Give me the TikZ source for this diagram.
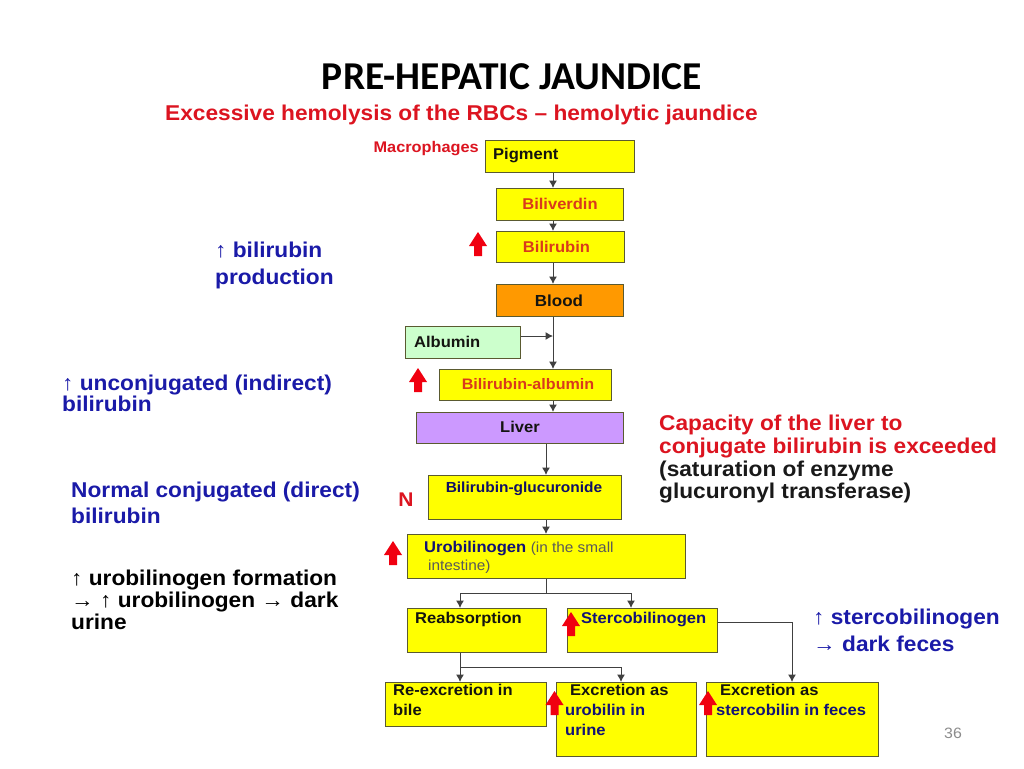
\documentclass[tikz,border=0pt]{standalone}
\usepackage{fontspec}
\setmainfont[FakeStretch=1.06]{Liberation Sans}
\newfontfamily\titlefont{Carlito}
\usetikzlibrary{arrows.meta}
\definecolor{boxyellow}{HTML}{FFFF00}
\definecolor{boxorange}{HTML}{FF9900}
\definecolor{boxgreen}{HTML}{CCFFCC}
\definecolor{boxpurple}{HTML}{CC99FF}
\definecolor{edgecol}{HTML}{5A5A30}
\definecolor{linecol}{HTML}{404040}
\definecolor{slideblue}{HTML}{1A1AA8}
\definecolor{slidered}{HTML}{DC1420}
\definecolor{boxred}{HTML}{D93A1C}
\definecolor{inkdark}{HTML}{141410}
\definecolor{arrowred}{HTML}{F00010}
\tikzset{
  x=1pt,y=-1pt,
  flowbox/.style={draw=edgecol,line width=1.2pt,inner sep=0pt,anchor=north west},
  conn/.style={draw=linecol,line width=1pt},
  arr/.style={conn,-{Latex[length=7.5pt,width=8pt]}},
  boxtext/.style={font=\bfseries\fontsize{15.6}{20}\selectfont,inner sep=0pt,text=inkdark,align=left},
  sidetext/.style={font=\bfseries\fontsize{21.4}{27}\selectfont,inner sep=0pt,anchor=north west,align=left},
  uparrow/.style={fill=arrowred,draw=none},
}
\newcommand{\flowbox}[6]{\node[flowbox,fill=#6,minimum width=#4-#2,minimum height=#5-#3] (#1) at (#2,#3) {};}
\newcommand{\redup}[2]{\fill[uparrow] (#1,#2) -- (#1+9,#2+14) -- (#1+4,#2+14) -- (#1+4,#2+24) -- (#1-4,#2+24) -- (#1-4,#2+14) -- (#1-9,#2+14) -- cycle;}
\begin{document}
\begin{tikzpicture}
\useasboundingbox (0,0) rectangle (1024,768);
\fill[white] (0,0) rectangle (1024,768);
% titles
\node[font=\titlefont\bfseries\fontsize{39.5}{44}\selectfont,inner sep=0pt,text=black] (title) at (512,77) {PRE-HEPATIC JAUNDICE};
\node[font=\bfseries\fontsize{21.4}{26}\selectfont,inner sep=0pt,text=slidered] (subtitle) at (461.5,115) {Excessive hemolysis of the RBCs -- hemolytic jaundice};
% boxes
\flowbox{pigment}{485}{140}{634}{172}{boxyellow}
\flowbox{biliverdin}{496}{188}{623}{220}{boxyellow}
\flowbox{bilirubin}{496}{231}{624}{262}{boxyellow}
\flowbox{blood}{496}{284}{623}{316}{boxorange}
\flowbox{albumin}{405}{326}{520}{358}{boxgreen}
\flowbox{bilalb}{439}{369}{611}{400}{boxyellow}
\flowbox{liver}{416}{412}{623}{443}{boxpurple}
\flowbox{biluc}{428}{475}{621}{519}{boxyellow}
\flowbox{uro}{406.5}{534}{685}{578}{boxyellow}
\flowbox{reabs}{406.5}{608}{546}{652}{boxyellow}
\flowbox{sterco}{567}{608}{717}{652}{boxyellow}
\flowbox{reex}{385}{682}{546}{726}{boxyellow}
\flowbox{exuro}{556}{682}{696}{756}{boxyellow}
\flowbox{exster}{706}{682}{878}{756}{boxyellow}
% box texts
\node[boxtext,anchor=west] (tpigment) at (493,155.5) {Pigment};
\node[boxtext,text=boxred] (tbiliverdin) at (560,203.5) {Biliverdin};
\node[boxtext,text=boxred] (tbilirubin) at (556.5,246.5) {Bilirubin};
\node[boxtext,font=\bfseries\fontsize{16}{20}\selectfont] (tblood) at (559,300.5) {Blood};
\node[boxtext,anchor=west] (talbumin) at (414,341.5) {Albumin};
\node[boxtext,font=\bfseries\fontsize{15.2}{20}\selectfont,text=boxred] (tbilalb) at (528,384.5) {Bilirubin-albumin};
\node[boxtext] (tliver) at (520,426.5) {Liver};
\node[boxtext,font=\bfseries\fontsize{14.6}{18}\selectfont,text=slideblue!60!black] (tbiluc) at (524,489) {Bilirubin-glucuronide};
\node[boxtext,anchor=west,text=slideblue!70!black] (turo) at (424,548) {Urobilinogen \mdseries\fontsize{14.5}{18}\selectfont\color{black!65}(in the small};
\node[anchor=west,inner sep=0pt,text=black!65,font=\fontsize{14.5}{18}\selectfont] (turob) at (428,567) {intestine)};
\node[boxtext,anchor=west] (treabs) at (415,619) {Reabsorption};
\node[boxtext,anchor=west,text=slideblue!70!black] (tsterco) at (581,619) {Stercobilinogen};
\node[boxtext,anchor=west] (treex) at (393,690) {Re-excretion in};
\node[boxtext,anchor=west] (treexb) at (393,710) {bile};
\node[boxtext,anchor=west] (texuro) at (570,690) {Excretion as};
\node[boxtext,anchor=west,text=slideblue!70!black] (texurob) at (565,710) {urobilin in};
\node[boxtext,anchor=west,text=slideblue!70!black] (texuroc) at (565,730) {urine};
\node[boxtext,anchor=west] (texster) at (720,690) {Excretion as};
\node[boxtext,anchor=west,text=slideblue!70!black] (texsterb) at (716,710) {stercobilin in feces};
% connector positions
\coordinate (tra) at (553,0);
\coordinate (trb) at (546,0);
\coordinate (lft) at (460,0);
\coordinate (rgt) at (631,0);
\coordinate (lftb) at (621,0);
\coordinate (sx) at (792,0);
\coordinate (alby) at (0,336);
\coordinate (spa) at (0,593);
\coordinate (spb) at (0,667);
\coordinate (sty) at (0,622);
% connectors
\draw[arr] (pigment.south -| tra) -- (biliverdin.north -| tra);
\draw[arr] (biliverdin.south -| tra) -- (bilirubin.north -| tra);
\draw[arr] (bilirubin.south -| tra) -- (blood.north -| tra);
\draw[arr] (blood.south -| tra) -- (bilalb.north -| tra);
\draw[arr] (albumin.east |- alby) -- (tra |- alby);
\draw[arr] (bilalb.south -| tra) -- (liver.north -| tra);
\draw[arr] (liver.south -| trb) -- (biluc.north -| trb);
\draw[arr] (biluc.south -| trb) -- (uro.north -| trb);
\draw[conn] (uro.south -| trb) -- (trb |- spa);
\draw[arr] (trb |- spa) -| (reabs.north -| lft);
\draw[arr] (trb |- spa) -| (sterco.north -| rgt);
\draw[arr] (reabs.south -| lft) -- (reex.north -| lft);
\draw[arr] (lft |- spb) -| (exuro.north -| lftb);
\draw[arr] (sterco.east |- sty) -| (exster.north -| sx);
% red arrows
\redup{478}{232}
\redup{418}{368}
\redup{393}{541}
\redup{571}{612}
\redup{554.5}{691}
\redup{708}{691}
% side texts
\node[font=\bfseries\fontsize{15.4}{19}\selectfont,inner sep=0pt,text=slidered,anchor=east] (macro) at (479,149) {Macrophages};
\node[sidetext,text=slideblue] (sa) at (215,242) {\mdseries↑ \bfseries bilirubin\\production};
\node[sidetext,text=slideblue,font=\bfseries\fontsize{21.4}{21}\selectfont] (sb) at (62,375) {\mdseries↑ \bfseries unconjugated (indirect)\\bilirubin};
\node[sidetext,text=slideblue,font=\bfseries\fontsize{21.4}{26}\selectfont] (sc) at (71,482) {Normal conjugated (direct)\\bilirubin};
\node[sidetext,text=black,font=\bfseries\fontsize{21.4}{22}\selectfont] (sd) at (71,570) {\mdseries↑ \bfseries urobilinogen formation\\\mdseries→ ↑ \bfseries urobilinogen \mdseries→ \bfseries dark\\urine};
\node[font=\bfseries\fontsize{19.8}{24}\selectfont,inner sep=0pt,text=slidered] (nmark) at (406,500) {N};
\node[sidetext,text=slidered,font=\bfseries\fontsize{21.4}{23}\selectfont] (se) at (659,415) {Capacity of the liver to\\conjugate bilirubin is exceeded};
\node[sidetext,text=black!90,font=\bfseries\fontsize{21.4}{22}\selectfont] (sf) at (659,461) {(saturation of enzyme\\glucuronyl transferase)};
\node[sidetext,text=slideblue] (sg) at (813,609) {\mdseries↑ \bfseries stercobilinogen\\\mdseries→ \bfseries dark feces};
\node[font=\fontsize{15}{18}\selectfont,inner sep=0pt,text=black!45] (num) at (953,733) {36};
\end{tikzpicture}
\end{document}
